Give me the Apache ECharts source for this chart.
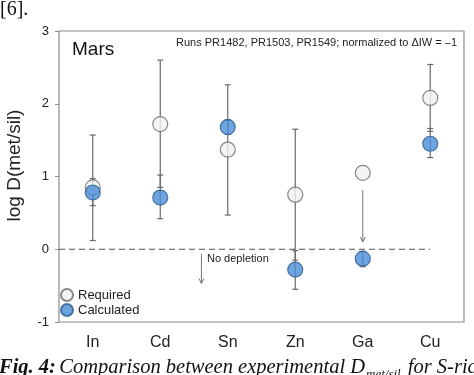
<!DOCTYPE html>
<html>
<head>
<meta charset="utf-8">
<script src="https://cdn.jsdelivr.net/npm/echarts@6/dist/echarts.min.js"></script>
<style>html,body{margin:0;padding:0;background:#fff;}#c{width:474px;height:375px;}</style>
</head>
<body>
<div id="c"></div>
<script>
// ---- data ----
var categories = ['In', 'Cd', 'Sn', 'Zn', 'Ga', 'Cu'];
var required = [0.85, 1.72, 1.37, 0.75, 1.05, 2.08];
var calculated = [0.78, 0.71, 1.68, -0.28, -0.13, 1.45];
var requiredLow = [0.12, 0.85, 0.47, -0.15, null, 1.62];
var requiredHigh = [1.57, 2.60, 2.26, 1.65, null, 2.54];
var calculatedLow = [0.60, 0.42, 1.58, -0.55, -0.24, 1.26];
var calculatedHigh = [0.97, 1.02, 1.78, -0.02, -0.03, 1.66];
var yTicks = [-1, 0, 1, 2, 3];
// arrows: [x position on category scale, from y, to y]
var arrows = [[4, 0.81, 0.10], [1.61, -0.06, -0.47]];
var noDepletionLine = [[-0.5, 0], [5, 0]];

var errData = [];
for (var i = 0; i < categories.length; i++) {
  if (requiredLow[i] !== null) errData.push([i, requiredLow[i], requiredHigh[i]]);
  if (calculatedLow[i] !== null) errData.push([i, calculatedLow[i], calculatedHigh[i]]);
}

var chart = echarts.init(document.getElementById('c'), null, {renderer: 'canvas'});
var grey = '#6a6a6a';

chart.setOption({
  animation: false,
  backgroundColor: '#fff',
  title: [
    {text: 'Mars', left: 67, top: 35, textStyle: {fontFamily: 'Liberation Sans', fontSize: 19, fontWeight: 'normal', color: '#111'}},
    {text: 'Runs PR1482, PR1503, PR1549; normalized to \u0394IW = \u20131', right: 12, top: 32,
     textStyle: {fontFamily: 'Liberation Sans', fontSize: 11, fontWeight: 'normal', color: '#222'}}
  ],
  grid: {left: 59, right: 10, top: 31, bottom: 53, show: true, borderColor: '#8a8a8a', borderWidth: 1.2,
         backgroundColor: 'transparent', containLabel: false, outerBoundsMode: 'none'},
  legend: {
    orient: 'vertical', left: 60, top: 288, itemWidth: 12, itemHeight: 12, itemGap: 1, padding: 0,
    data: ['Required', 'Calculated'],
    textStyle: {fontFamily: 'Liberation Sans', fontSize: 13, color: '#222', lineHeight: 12}
  },
  xAxis: [
    {type: 'category', data: categories, boundaryGap: true,
     axisLine: {show: false}, axisTick: {show: false}, splitLine: {show: false},
     axisLabel: {fontFamily: 'Liberation Sans', fontSize: 16, color: '#222', margin: 13}},
    {type: 'value', min: -0.5, max: 5.5, show: false}
  ],
  yAxis: {
    type: 'value', min: yTicks[0], max: yTicks[yTicks.length - 1], interval: 1,
    name: 'log D(met/sil)', nameLocation: 'middle', nameGap: 35, nameRotate: 90,
    nameTextStyle: {fontFamily: 'Liberation Sans', fontSize: 19, color: '#222', padding: [0, 0, 0, 22]},
    axisLine: {show: false, onZero: false}, splitLine: {show: false},
    axisTick: {show: true, length: 4, inside: false, lineStyle: {color: '#8a8a8a'}},
    axisLabel: {fontFamily: 'Liberation Sans', fontSize: 13, color: '#222', margin: 10}
  },
  series: [
    {
      type: 'line', xAxisIndex: 1, data: noDepletionLine, symbol: 'none', z: 1,
      lineStyle: {color: '#555', width: 1.2, type: [6, 4]}, silent: true
    },
    {
      type: 'custom', xAxisIndex: 0, data: errData, z: 2, silent: true,
      renderItem: function (params, api) {
        var x = api.value(0);
        var lo = api.coord([x, api.value(1)]);
        var hi = api.coord([x, api.value(2)]);
        var w = 3;
        var st = {stroke: grey, lineWidth: 1.2};
        return {type: 'group', children: [
          {type: 'line', shape: {x1: lo[0], y1: lo[1], x2: hi[0], y2: hi[1]}, style: st},
          {type: 'line', shape: {x1: lo[0] - w, y1: lo[1], x2: lo[0] + w, y2: lo[1]}, style: st},
          {type: 'line', shape: {x1: hi[0] - w, y1: hi[1], x2: hi[0] + w, y2: hi[1]}, style: st}
        ]};
      }
    },
    {
      type: 'custom', xAxisIndex: 1, data: arrows, z: 2, silent: true,
      renderItem: function (params, api) {
        var x = api.value(0) ;
        var a = api.coord([x, api.value(1)]);
        var b = api.coord([x, api.value(2)]);
        return {type: 'group', children: [
          {type: 'line', shape: {x1: a[0], y1: a[1], x2: b[0], y2: b[1]}, style: {stroke: '#777', lineWidth: 1}},
          {type: 'polyline', shape: {points: [[b[0] - 2.5, b[1] - 5], [b[0], b[1]], [b[0] + 2.5, b[1] - 5]]},
           style: {stroke: '#777', lineWidth: 1, fill: null}}
        ]};
      }
    },
    {
      name: 'Required', type: 'scatter', data: required, symbol: 'circle', symbolSize: 15, z: 3,
      itemStyle: {color: '#f1f1f1', borderColor: '#6b6b6b', borderWidth: 1.2}
    },
    {
      name: 'Calculated', type: 'scatter', data: calculated, symbol: 'circle', symbolSize: 15, z: 4,
      itemStyle: {color: '#4a8fd8', borderColor: '#2d5d8e', borderWidth: 1.2}
    }
  ],
  graphic: [
    {type: 'text', left: 207, top: 253, style: {text: 'No depletion', font: '11px "Liberation Sans"', fill: '#222'}},
    {type: 'text', left: 0, top: 0, style: {text: '[6].', font: '20px "Liberation Serif"', fill: '#111'}},
    {type: 'text', left: -1, top: 358, style: {
      text: '{b|Fig. 4:} {i|Comparison between experimental D}{s|met/sil}{i| for S-rich}',
      rich: {
        b: {font: 'italic bold 20.5px "Liberation Serif"', fill: '#111'},
        i: {font: 'italic 20.5px "Liberation Serif"', fill: '#111'},
        s: {font: 'italic 13px "Liberation Serif"', fill: '#111', padding: [14, 2, 0, 1]}
      }
    }}
  ]
});
</script>
</body>
</html>
